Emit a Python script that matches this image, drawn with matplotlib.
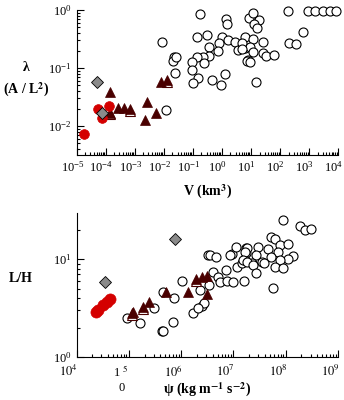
import numpy as np
import matplotlib
matplotlib.use('Agg')
import matplotlib.pyplot as plt
import matplotlib.transforms as mtransforms
from matplotlib.ticker import LogLocator, NullFormatter, FixedLocator, FixedFormatter

plt.rcParams['font.family'] = ['Liberation Serif', 'DejaVu Serif']
plt.rcParams['mathtext.fontset'] = 'stix'

# ---- 上图: lambda vs V (log10 值) ----
open_logV = [-0.74, 0.155, 0.19, 0.95, -2.05, -0.845, -0.50, -0.43, 0.02, -0.09,
             0.22, 0.47, 0.57, 0.81, 0.81, 0.91, -0.12, -0.43, -0.64, -0.845,
             -1.02, -0.60, -1.64, -1.67, -1.57, -1.02, -1.60, -0.81, -0.98, -0.33,
             0.12, -0.02, 1.09, 1.29, 1.12, 1.22, 2.29, 2.98, 3.22, 3.50,
             3.71, 3.95, 2.78, 2.33, 2.57, 0.71, 1.09, 0.98, 1.43, 0.71,
             1.09, 1.43, 1.53, 1.81, 0.88, 0.98, 1.19, -1.91]
open_logL = [-0.07, -0.157, -0.243, -0.14, -0.557, -0.47, -0.435, -0.643, -0.47, -0.574,
             -0.522, -0.557, -0.696, -0.47, -0.661, -0.87, -0.713, -0.80, -0.817, -0.817,
             -0.904, -0.922, -0.817, -0.887, -0.817, -1.043, -1.078, -1.165, -1.252, -1.20,
             -1.096, -1.287, -0.052, -0.174, -0.243, -0.313, -0.01, -0.01, -0.01, -0.01,
             -0.01, -0.01, -0.383, -0.574, -0.591, -0.574, -0.504, -0.643, -0.557, -0.678,
             -0.73, -0.748, -0.80, -0.783, -0.887, -0.904, -1.235, -1.72]

red_logV = [-4.74, -4.26, -4.12, -3.88]
red_logL = [-2.14, -1.70, -1.86, -1.65]

gray_logV = [-4.29, -4.12]
gray_logL = [-1.25, -1.77]

tri_logV = [-3.84, -3.84, -3.57, -3.36, -3.16, -2.64, -2.57, -2.26, -2.09, -1.88]
tri_logL = [-1.41, -1.77, -1.69, -1.69, -1.70, -1.90, -1.58, -1.77, -1.25, -1.20]
tri2_logV = [-3.16, -1.88, -3.84]
tri2_logL = [-1.735, -1.235, -1.80]

# ---- 下图: L/H vs psi (log10 值) ----
open_logP = [4.97, 5.21, 5.48, 5.65, 5.86, 5.64, 5.84, 6.02, 6.23, 6.36,
             6.40, 6.44, 6.33, 6.52, 6.55, 6.67, 6.53, 6.61, 6.71, 6.74,
             6.88, 6.99, 6.86, 6.97, 7.05, 7.07, 7.20, 7.16, 7.24, 7.24,
             7.22, 7.95, 8.27, 8.37, 8.48, 7.72, 7.80, 7.89, 8.04, 7.26,
             7.47, 7.66, 7.22, 7.43, 7.85, 7.72, 8.14, 8.04, 7.18, 7.36,
             7.55, 7.89, 7.26, 7.38, 7.80, 7.95, 7.58, 7.43, 7.76, 6.94, 5.65]
open_logH = [0.40, 0.35, 0.50, 0.66, 0.60, 0.27, 0.36, 0.78, 0.45, 0.68,
             0.52, 0.55, 0.50, 1.04, 1.04, 1.02, 0.73, 0.87, 0.82, 0.77,
             0.78, 0.77, 0.89, 1.05, 1.12, 0.92, 0.78, 0.96, 1.11, 1.06,
             0.99, 1.40, 1.34, 1.30, 1.31, 1.22, 1.20, 1.14, 1.15, 1.11,
             1.12, 1.10, 1.07, 1.04, 1.07, 1.02, 1.03, 1.00, 0.99, 0.96,
             0.97, 0.99, 0.97, 0.94, 0.92, 0.91, 0.96, 0.86, 0.70, 1.04, 0.27]

red_logP = [4.37, 4.41, 4.51, 4.58, 4.64]
red_logH = [0.459, 0.48, 0.53, 0.56, 0.59]

gray_logP = [4.55, 5.88]
gray_logH = [0.765, 1.20]

tri_logP = [5.06, 5.08, 5.27, 5.39, 5.71, 6.13, 6.28, 6.40, 6.50, 6.50]
tri_logH = [0.449, 0.46, 0.51, 0.56, 0.66, 0.66, 0.80, 0.82, 0.83, 0.64]
tri2_logP = [5.27, 6.28, 5.06]
tri2_logH = [0.49, 0.78, 0.43]

dark = '#4a0000'
red = '#d40000'


def style_axes(ax, dx, xpad):
    for s in ['top', 'right']:
        ax.spines[s].set_visible(False)
    ax.tick_params(which='both', direction='in', top=False, right=False,
                   labelsize=9, width=0.8)
    ax.tick_params(which='major', length=5)
    ax.tick_params(which='minor', length=2.5)
    ax.tick_params(axis='x', pad=xpad)
    # x 刻度标签稍微左移
    shift = mtransforms.ScaledTranslation(-dx / 72, 0, ax.figure.dpi_scale_trans)
    for lab in ax.get_xticklabels():
        lab.set_transform(lab.get_transform() + shift)


def draw(ax, ox, oy, rx, ry, gx, gy, tx, ty, t2x, t2y, ms_red):
    ax.plot(10 ** np.array(ox), 10 ** np.array(oy), 'o', ms=6.5, mfc='white',
            mec='black', mew=0.8, clip_on=False)
    ax.plot(10 ** np.array(t2x), 10 ** np.array(t2y), '^', ms=7, mfc='white',
            mec=dark, mew=0.8)
    ax.plot(10 ** np.array(tx), 10 ** np.array(ty), '^', ms=7, mfc=dark,
            mec=dark, mew=0.5)
    ax.plot(10 ** np.array(rx), 10 ** np.array(ry), 'o', ms=ms_red, mfc=red,
            mec=red, mew=0.5)
    ax.plot(10 ** np.array(gx), 10 ** np.array(gy), 'D', ms=6, mfc='#8a8a8a',
            mec='black', mew=0.6)


fig = plt.figure(figsize=(3.44, 4.0), dpi=100)

# 上图
ax1 = fig.add_axes([0.2224, 0.6125, 0.760, 0.3625])
draw(ax1, open_logV, open_logL, red_logV, red_logL, gray_logV, gray_logL,
     tri_logV, tri_logL, tri2_logV, tri2_logL, 7)
ax1.set_xscale('log')
ax1.set_yscale('log')
ax1.set_xlim(1e-5, 1e4)
ax1.set_ylim(10 ** -2.5, 1)
ax1.xaxis.set_major_locator(FixedLocator([10.0 ** k for k in range(-5, 5)]))
ax1.xaxis.set_minor_locator(LogLocator(base=10, subs=np.arange(2, 10), numticks=20))
ax1.xaxis.set_minor_formatter(NullFormatter())
ax1.yaxis.set_minor_formatter(NullFormatter())
style_axes(ax1, 3, 3.5)
ax1.set_xlabel('V (km$^{\\mathbf{3}}$)', fontsize=10, fontweight='bold', labelpad=6)
fig.text(0.075, 0.80, 'λ\n(A / L$^{\\mathbf{2}}$)', ha='center', va='center',
         fontsize=10, fontweight='bold', linespacing=1.6)

# 下图
ax2 = fig.add_axes([0.2224, 0.1075, 0.760, 0.36])
draw(ax2, open_logP, open_logH, red_logP, red_logH, gray_logP, gray_logH,
     tri_logP, tri_logH, tri2_logP, tri2_logH, 8)
ax2.set_xscale('log')
ax2.set_yscale('log')
ax2.set_xlim(1e4, 1e9)
ax2.set_ylim(1, 10 ** 1.47)
ax2.xaxis.set_major_locator(FixedLocator([1e4, 1e5, 1e6, 1e7, 1e8, 1e9]))
ax2.xaxis.set_major_formatter(FixedFormatter(
    ['$10^4$', '1 $^5$\n0', '$10^6$', '$10^7$', '$10^8$', '$10^9$']))
ax2.xaxis.set_minor_locator(LogLocator(base=10, subs=np.arange(2, 10), numticks=20))
ax2.xaxis.set_minor_formatter(NullFormatter())
ax2.yaxis.set_minor_formatter(NullFormatter())
style_axes(ax2, 5.5, 5)
ax2.set_xlabel('ψ (kg m$^{\\mathbf{-1}}$ s$^{\\mathbf{-2}}$)', fontsize=10,
               fontweight='bold')
ax2.xaxis.set_label_coords(0.5, -0.165)
fig.text(0.06, 0.305, 'L/H', ha='center', va='center', fontsize=10,
         fontweight='bold')

fig.savefig('out.png', dpi=100)
